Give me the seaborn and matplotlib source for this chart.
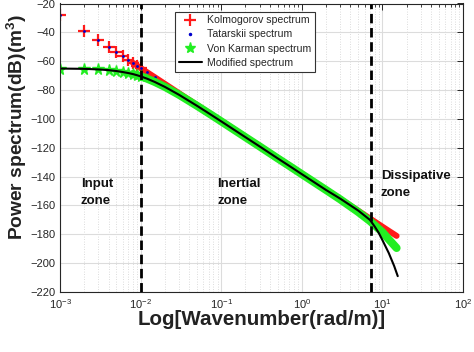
import numpy as np
import pandas as pd
import matplotlib
matplotlib.use("Agg")
import matplotlib.pyplot as plt
import seaborn as sns
from matplotlib.lines import Line2D
from matplotlib.ticker import LogLocator, FixedLocator, NullFormatter

# ---------------- data ----------------
k = [0.001, 0.002, 0.003, 0.004, 0.005, 0.006, 0.007, 0.008, 0.009,
     0.01, 0.012, 0.015, 0.02, 0.03, 0.05, 0.07, 0.1, 0.2, 0.3, 0.5,
     0.7, 1, 2, 3, 5, 7, 10, 12, 15]
kolmogorov = [-28.0, -39.0, -45.5, -50.1, -53.6, -56.5, -59.0, -61.1, -63.0,
              -64.7, -67.6, -71.1, -75.7, -82.2, -90.3, -95.7, -101.3, -112.4,
              -118.8, -127.0, -132.3, -138.0, -149.0, -155.5, -163.6, -169.0,
              -174.7, -177.6, -181.1]
tatarskii = [-28.0, -39.0, -45.5, -50.1, -53.6, -56.5, -59.0, -61.1, -63.0,
             -64.7, -67.6, -71.1, -75.7, -82.2, -90.3, -95.7, -101.3, -112.4,
             -118.8, -127.0, -132.3, -138.0, -149.0, -155.8, -165.0, -171.0,
             -179.0, -184.0, -190.0]
von_karman = [-65.1, -65.3, -65.7, -66.2, -66.8, -67.5, -68.2, -68.9, -69.7,
              -70.5, -72.1, -74.4, -77.8, -83.3, -90.9, -96.1, -101.7, -112.7,
              -119.1, -127.3, -132.6, -138.3, -149.3, -155.8, -164.5, -170.8,
              -178.5, -183.5, -189.5]
k_mod = [0.001, 0.002, 0.003, 0.004, 0.005, 0.006, 0.007, 0.008, 0.009,
         0.01, 0.012, 0.015, 0.02, 0.03, 0.05, 0.07, 0.1, 0.2, 0.3, 0.5,
         0.7, 1, 2, 3, 5, 7, 8, 9, 10, 12, 14, 15.5]
modified = [-65.1, -65.3, -65.7, -66.2, -66.8, -67.5, -68.2, -68.9, -69.7,
            -70.5, -72.1, -74.4, -77.8, -83.3, -90.9, -96.1, -101.7, -112.7,
            -119.1, -127.3, -132.6, -138.3, -149.3, -155.3, -163.5, -170.0,
            -174.5, -179.0, -184.0, -193.0, -202.0, -209.0]
zone_bounds = [0.01, 7.2]
zone_labels = ["Input\nzone", "Inertial\nzone", "Dissipative\nzone"]
zone_label_x = [0.00182, 0.0887, 9.6]
zone_label_y = [-150.7, -150.7, -145.5]
y_ticks = list(range(-220, -19, 20))
legend_labels = ["Kolmogorov spectrum", "Tatarskii spectrum",
                 "Von Karman spectrum", "Modified spectrum"]

df = pd.DataFrame({"k": k, "kol": kolmogorov, "tat": tatarskii, "vk": von_karman})
dfm = pd.DataFrame({"k": k_mod, "mod": modified})
pts = df[df["k"] <= 0.01]
band = df[df["k"] >= 0.008]

# ---------------- style ----------------
sns.set_theme(style="white")
plt.rcParams["font.family"] = ["Liberation Sans", "DejaVu Sans"]
plt.rcParams["mathtext.fontset"] = "custom"
plt.rcParams["mathtext.rm"] = "Liberation Sans"
plt.rcParams["mathtext.bf"] = "Liberation Sans:bold"
plt.rcParams["mathtext.default"] = "regular"

fig = plt.figure(figsize=(4.74, 3.52), dpi=100)
ax = fig.add_axes([60 / 474, (352 - 292) / 352, 403 / 474, 288.5 / 352])
ax.set_xscale("log")

red, blue, green = "#ff1a1a", "#0000cc", "#22ee22"

# Kolmogorov
sns.lineplot(data=band, x="k", y="kol", ax=ax, color=red, lw=4.3,
             estimator=None, sort=False, solid_capstyle="round")
sns.lineplot(data=pts, x="k", y="kol", ax=ax, color=red, marker="+", ls="none",
             markersize=8, markeredgewidth=1.6, markeredgecolor=red,
             estimator=None, sort=False)
# Tatarskii
sns.lineplot(data=df, x="k", y="tat", ax=ax, color=blue, marker=".", ls="none",
             markersize=2.5, markeredgecolor=blue, estimator=None, sort=False)
# Von Karman
sns.lineplot(data=band, x="k", y="vk", ax=ax, color=green, lw=5.8,
             estimator=None, sort=False, solid_capstyle="round")
sns.lineplot(data=pts, x="k", y="vk", ax=ax, color=green, marker="*", ls="none",
             markersize=8.5, markeredgewidth=1.0, markeredgecolor=green,
             estimator=None, sort=False)
# Modified
sns.lineplot(data=dfm, x="k", y="mod", ax=ax, color="black", lw=1.5,
             estimator=None, sort=False)

for xb in zone_bounds:
    ax.axvline(xb, color="black", lw=2.0, ls=(0, (3.4, 1.7)), zorder=5)

for lab, xx, yy in zip(zone_labels, zone_label_x, zone_label_y):
    ax.text(xx, yy, lab, fontsize=9.5, fontweight="bold", ha="left",
            va="center", linespacing=1.55, color="#111111")

ax.set_xlim(1e-3, 1e2)
ax.set_ylim(-220, -20)
ax.yaxis.set_major_locator(FixedLocator(y_ticks))
ax.xaxis.set_major_locator(LogLocator(base=10, numticks=10))
ax.xaxis.set_minor_locator(LogLocator(base=10, subs=np.arange(2, 10), numticks=20))
ax.xaxis.set_minor_formatter(NullFormatter())

ax.grid(which="major", color="#dcdcdc", lw=0.8, ls="-")
ax.grid(which="minor", axis="x", color="#d0d0d0", lw=0.6, ls=(0, (1, 2)))
ax.set_axisbelow(True)

for s in ax.spines.values():
    s.set_visible(True)
    s.set_color("#262626")
    s.set_linewidth(0.8)
ax.tick_params(which="both", direction="in", top=True, right=True,
               colors="#262626", labelcolor="#262626", labelsize=8)
ax.tick_params(which="major", length=4, width=0.7)
ax.tick_params(which="minor", length=2, width=0.6)

ax.set_xlabel("Log[Wavenumber(rad/m)]", fontsize=14.8, fontweight="bold",
              color="#222222", va="top")
ax.set_ylabel(r"Power spectrum(dB)(m$^\mathbf{3}$)", fontsize=13.8,
              fontweight="bold", color="#222222")
ax.xaxis.set_label_coords(0.5, -0.064)
ax.yaxis.set_label_coords(-0.078, 0.572)

handles = [
    Line2D([], [], color=red, marker="+", ls="none", markersize=8, markeredgewidth=1.6),
    Line2D([], [], color=blue, marker=".", ls="none", markersize=3),
    Line2D([], [], color=green, marker="*", ls="none", markersize=8),
    Line2D([], [], color="black", lw=1.5),
]
leg = ax.legend(handles, legend_labels, loc="upper left",
                bbox_to_anchor=(0.285, 0.972), fontsize=7.6, frameon=True,
                fancybox=False, edgecolor="#333333", framealpha=1,
                borderpad=0.35, labelspacing=0.4, handlelength=2.2,
                handletextpad=0.5, borderaxespad=0)
leg.get_frame().set_linewidth(0.8)

fig.savefig("out.png", dpi=100)
